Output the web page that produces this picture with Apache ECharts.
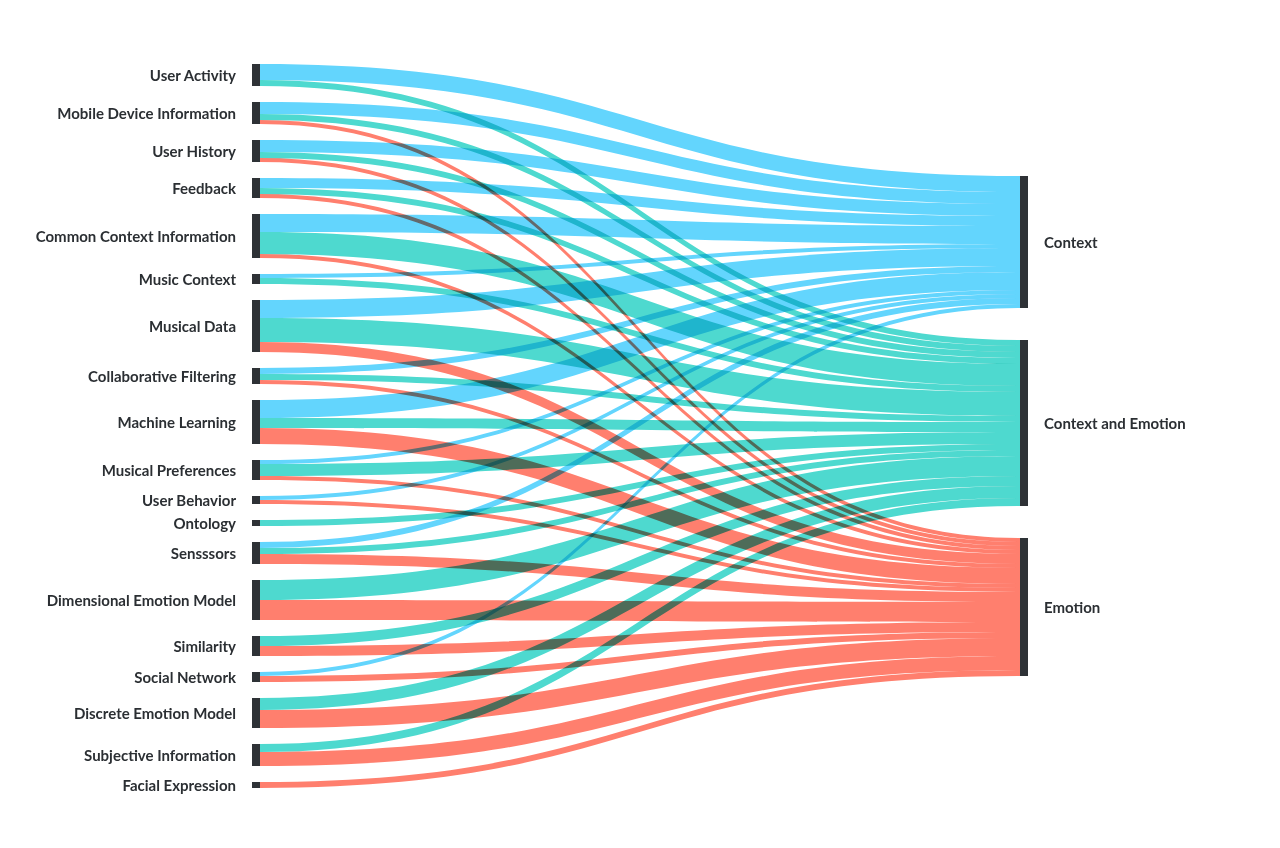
<!DOCTYPE html>
<html>
<head>
<meta charset="utf-8">
<script src="https://cdn.jsdelivr.net/npm/echarts@6/dist/echarts.min.js"></script>
<style>
  html, body { margin: 0; padding: 0; background: #ffffff; }
  #chart { width: 1280px; height: 848px; }
  #chart svg path { mix-blend-mode: multiply; }
</style>
</head>
<body>
<div id="chart"></div>
<script>
// Left-hand nodes (sources)
const sourceNames = [
  'User Activity', 'Mobile Device Information', 'User History', 'Feedback',
  'Common Context Information', 'Music Context', 'Musical Data',
  'Collaborative Filtering', 'Machine Learning', 'Musical Preferences',
  'User Behavior', 'Ontology', 'Sensssors', 'Dimensional Emotion Model',
  'Similarity', 'Social Network', 'Discrete Emotion Model',
  'Subjective Information', 'Facial Expression'
];
// Right-hand nodes (targets)
const targetNames = ['Context', 'Context and Emotion', 'Emotion'];
const targetColors = ['#63d5fd', '#4ed9cf', '#ff7f6e'];

// Flow values from each source to each target (same order as sourceNames)
const toContext =           [8, 6, 6, 5, 9, 2, 9, 3, 9, 2, 2, 0, 3, 0, 0, 2, 0, 0, 0];
const toContextAndEmotion = [3, 3, 3, 3, 11, 3, 12, 3, 5, 6, 0, 3, 3, 10, 5, 0, 6, 4, 0];
const toEmotion =           [0, 2, 2, 2, 2, 0, 5, 2, 8, 2, 2, 0, 5, 10, 5, 3, 9, 7, 3];

const flowTables = [toContext, toContextAndEmotion, toEmotion];

// Layout settings
const TOP = 64, BOTTOM = 60, CHART_H = 848;
const NODE_GAP = 16;          // gap in the (packed) left column
const RIGHT_GAP = 32;         // gap between the right-hand nodes
const seriesH = CHART_H - TOP - BOTTOM;

// Same scale the library uses: the packed left column limits it
const sum = a => a.reduce((p, c) => p + c, 0);
const totalFlow = sum(toContext) + sum(toContextAndEmotion) + sum(toEmotion);
const ky = (seriesH - (sourceNames.length - 1) * NODE_GAP) / totalFlow;
// Right column: centred vertically, nodes separated by RIGHT_GAP
const targetTotals = flowTables.map(sum);
const rightSpan = totalFlow * ky + (targetNames.length - 1) * RIGHT_GAP;
let yCursor = (seriesH - rightSpan) / 2;
const targetLocalY = targetTotals.map(v => {
  const y = yCursor / seriesH;
  yCursor += v * ky + RIGHT_GAP;
  return y;
});

const nodes = sourceNames.map(n => ({ name: n, depth: 0 }))
  .concat(targetNames.map((n, i) => ({ name: n, depth: 1, localY: targetLocalY[i] })));

const links = [];
sourceNames.forEach((s, i) => {
  flowTables.forEach((tbl, t) => {
    if (tbl[i] > 0) {
      links.push({
        source: s,
        target: targetNames[t],
        value: tbl[i],
        lineStyle: { color: targetColors[t] }
      });
    }
  });
});

const chart = echarts.init(document.getElementById('chart'), null, { renderer: 'svg' });
chart.setOption({
  backgroundColor: '#ffffff',
  animation: false,
  series: [{
    type: 'sankey',
    left: 252,
    right: 252,
    top: TOP,
    bottom: BOTTOM,
    nodeWidth: 8,
    nodeGap: NODE_GAP,
    nodeAlign: 'justify',
    layoutIterations: 0,
    draggable: false,
    emphasis: { disabled: true },
    data: nodes,
    links: links,
    itemStyle: { color: '#2e3236', borderWidth: 0 },
    lineStyle: { opacity: 1, curveness: 0.5 },
    label: {
      fontFamily: 'Lato',
      fontWeight: 'bold',
      fontSize: 15,
      color: '#2b2f33',
      distance: 16
    },
    levels: [
      { depth: 0, label: { position: 'left' } },
      { depth: 1, label: { position: 'right' } }
    ]
  }]
});
</script>
</body>
</html>
